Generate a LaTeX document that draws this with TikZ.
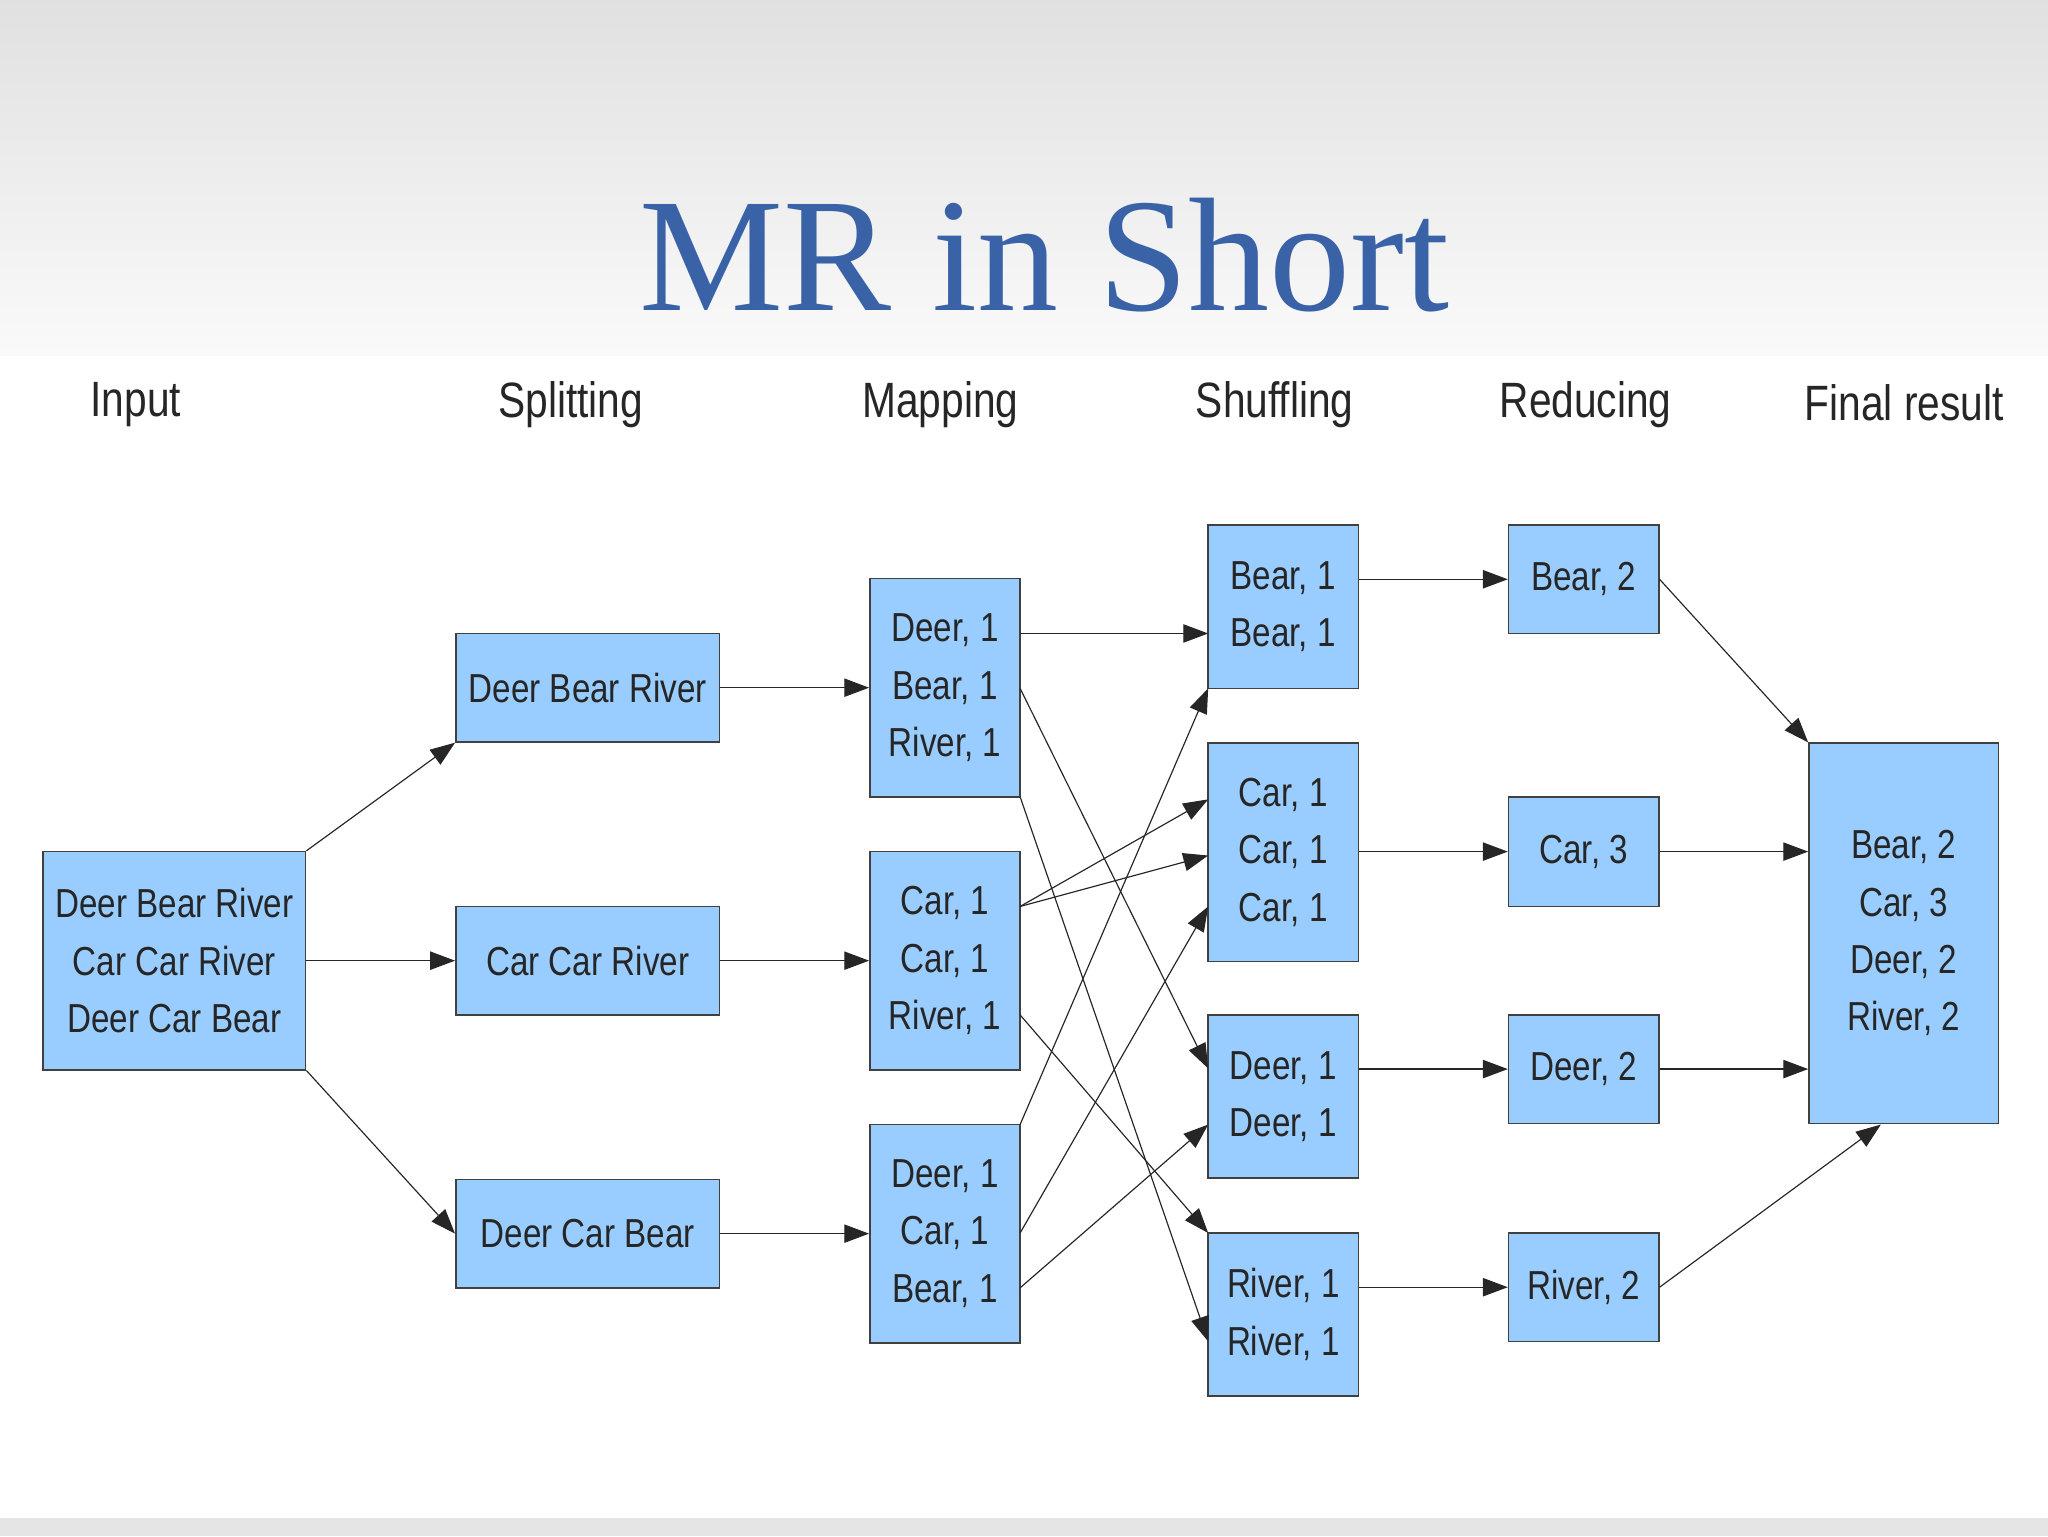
\documentclass[tikz,border=0pt]{standalone}
\usepackage{fontspec}
\setmainfont{Liberation Sans}[FakeStretch=0.82]
\newfontfamily\titlefont{Liberation Serif}
\usetikzlibrary{arrows.meta}
\definecolor{boxfill}{HTML}{99CCFF}
\definecolor{titleblue}{HTML}{3A62A6}
\tikzset{
 box/.style={draw=black!75,fill=boxfill,line width=1.2pt,inner sep=0pt,align=center,
   font=\fontsize{31}{44}\selectfont,text=black!85},
 hdr/.style={font=\fontsize{38}{44}\selectfont,text=black!85},
 arr/.style={-{Triangle[length=19pt,width=14pt]},line width=0.9pt,black!85}
}
\newcommand{\bx}[6]{\node[box,minimum width=#3-#1,minimum height=#4-#2] (#5) at ({(#1+#3)/2},{(#2+#4)/2}) {#6};}
\begin{document}
\begin{tikzpicture}[x=1pt,y=-1pt]
\useasboundingbox (0,0) rectangle (1568,1176);
\shade[top color=black!12,bottom color=black!2] (0,0) rectangle (1568,272);
\fill[black!10] (0,1162) rectangle (1568,1176);
\node[font=\titlefont\fontsize{124}{126}\selectfont,text=titleblue] (title) at (800,195) {MR in Short};
\node[hdr] (h1) at (104,310) {Input};
\node[hdr] (h2) at (437,310) {Splitting};
\node[hdr] (h3) at (720,310) {Mapping};
\node[hdr] (h4) at (976,310) {Shuffling};
\node[hdr] (h5) at (1214,310) {Reducing};
\node[hdr,anchor=base] (h6) at (1458,322) {Final result};
\bx{33}{652}{234}{819}{in}{Deer Bear River\\Car Car River\\Deer Car Bear}
\bx{349}{485}{551}{568}{s1}{Deer Bear River}
\bx{349}{694}{551}{777}{s2}{Car Car River}
\bx{349}{903}{551}{986}{s3}{Deer Car Bear}
\bx{666}{443}{781}{610}{m1}{Deer, 1\\Bear, 1\\River, 1}
\bx{666}{652}{781}{819}{m2}{Car, 1\\Car, 1\\River, 1}
\bx{666}{861}{781}{1028}{m3}{Deer, 1\\Car, 1\\Bear, 1}
\bx{925}{402}{1040}{527}{f1}{Bear, 1\\Bear, 1}
\bx{925}{569}{1040}{736}{f2}{Car, 1\\Car, 1\\Car, 1}
\bx{925}{777}{1040}{902}{f3}{Deer, 1\\Deer, 1}
\bx{925}{944}{1040}{1069}{f4}{River, 1\\River, 1}
\bx{1155}{402}{1270}{485}{r1}{Bear, 2}
\bx{1155}{610}{1270}{694}{r2}{Car, 3}
\bx{1155}{777}{1270}{860}{r3}{Deer, 2}
\bx{1155}{944}{1270}{1027}{r4}{River, 2}
\bx{1385}{569}{1530}{860}{fin}{Bear, 2\\Car, 3\\Deer, 2\\River, 2}
% input -> split
\draw[arr] (in.north east) -- (s1.south west);
\draw[arr] (in.east) -- (s2.west);
\draw[arr] (in.south east) -- (s3.west);
% split -> map
\draw[arr] (s1.east) -- (s1.east-|m1.west);
\draw[arr] (s2.east) -- (m2.west);
\draw[arr] (s3.east) -- (s3.east-|m3.west);
% map -> shuffle
\coordinate (a1) at (781,485); \coordinate (a2) at (781,527); \coordinate (a3) at (781,610);
\coordinate (b1) at (781,694); \coordinate (b2) at (781,777);
\coordinate (c1) at (781,861); \coordinate (c2) at (781,944); \coordinate (c3) at (781,986);
\coordinate (t1) at (925,485); \coordinate (t2) at (925,527);
\coordinate (t3) at (925,612); \coordinate (t4) at (925,655); \coordinate (t5) at (925,694);
\coordinate (t6) at (925,818); \coordinate (t7) at (925,861);
\coordinate (t8) at (925,944); \coordinate (t9) at (925,1027);
\draw[arr] (a1) -- (t1);
\draw[arr] (a2) -- (t6);
\draw[arr] (a3) -- (t9);
\draw[arr] (b1) -- (t3);
\draw[arr] (b1) -- (t4);
\draw[arr] (b2) -- (t8);
\draw[arr] (c1) -- (t2);
\draw[arr] (c2) -- (t5);
\draw[arr] (c3) -- (t7);
% shuffle -> reduce
\draw[arr] (f1.east|-r1.east) -- (r1.east-|r1.west);
\draw[arr] (f2.east|-r2.east) -- (r2.west);
\draw[arr] (f3.east|-r3.east) -- (r3.west);
\draw[arr] (f4.east|-r4.east) -- (r4.west);
% reduce -> final
\draw[arr] (r1.east) -- (fin.north west);
\draw[arr] (r2.east) -- (r2.east-|fin.west);
\draw[arr] (r3.east) -- (r3.east-|fin.west);
\draw[arr] (r4.east) -- (1440,861);
\end{tikzpicture}
\end{document}
